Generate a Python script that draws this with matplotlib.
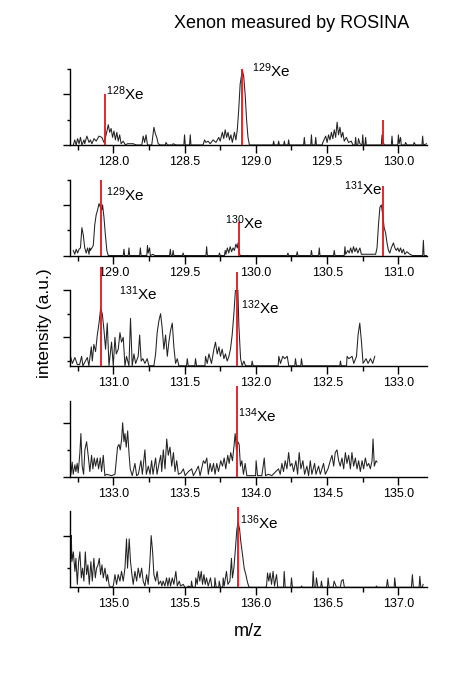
import numpy as np
import matplotlib
matplotlib.use("Agg")
from matplotlib import pyplot as plt
from matplotlib.ticker import MultipleLocator

plt.rcParams['font.family'] = ['Liberation Sans', 'DejaVu Sans']
plt.rcParams['mathtext.fontset'] = 'custom'
plt.rcParams['mathtext.rm'] = 'Liberation Sans'
plt.rcParams['mathtext.it'] = 'Liberation Sans:italic'

# spectra: (m/z, intensity in panel units)
spec1 = [(127.72,0.0),(127.73,0.2),(127.74,0.0),(127.75,0.25),(127.76,0.05),(127.77,0.3),(127.78,0.0),
         (127.795,0.2),(127.80,0.05),(127.815,0.35),(127.83,0.1),(127.84,0.2),(127.85,0.05),(127.865,0.25),
         (127.88,0.15),(127.90,0.35),(127.92,0.3),(127.935,0.1),(127.95,0.4),(127.965,0.8),(127.975,0.5),
         (127.985,0.65),(127.995,0.3),(128.005,0.55),(128.015,0.2),(128.025,0.5),(128.035,0.15),(128.045,0.4),
         (128.055,0.05),(128.07,0.15),(128.085,0.0),(128.10,0.05),(128.14,0.05),(128.16,0.0),(128.2,0.0),
         (128.21,0.35),(128.22,0.1),(128.23,0.4),(128.24,0.0),(128.27,0.0),(128.285,0.7),(128.295,0.45),
         (128.305,0.3),(128.315,0.05),(128.33,0.0),(128.365,0.0),(128.37,0.1),(128.38,0.0),(128.415,0.0),
         (128.42,0.05),(128.44,0.0),(128.495,0.0),(128.50,0.4),(128.505,0.0),(128.535,0.0),(128.54,0.4),
         (128.545,0.0),(128.63,0.0),(128.64,0.2),(128.65,0.1),
         (128.665,0.15),(128.68,0.05),(128.70,0.2),(128.72,0.1),(128.74,0.3),(128.75,0.15),(128.765,0.5),
         (128.775,0.25),(128.785,0.6),(128.795,0.3),(128.805,0.5),(128.815,0.2),(128.825,0.4),(128.835,0.1),
         (128.85,0.5),(128.86,0.2),(128.87,0.6),(128.88,1.4),(128.89,2.4),(128.905,2.95),(128.915,2.7),
         (128.925,2.0),(128.935,1.0),(128.945,0.3),(128.955,0.0),(129.12,0.0),(129.125,0.15),(129.13,0.0),
         (129.155,0.0),(129.16,0.15),(129.165,0.0),(129.195,0.0),(129.20,0.15),(129.205,0.0),(129.225,0.0),
         (129.23,0.2),(129.235,0.0),(129.335,0.0),(129.34,0.3),(129.345,0.0),(129.385,0.0),(129.39,0.4),
         (129.395,0.0),(129.415,0.0),(129.42,0.3),(129.425,0.0),(129.465,0.0),(129.47,0.1),
         (129.49,0.35),(129.50,0.1),(129.51,0.4),(129.52,0.2),(129.53,0.5),(129.54,0.25),(129.55,0.6),
         (129.56,0.3),(129.57,0.9),(129.58,0.4),(129.59,0.7),(129.60,0.3),(129.61,0.5),(129.62,0.15),
         (129.635,0.3),(129.65,0.1),(129.67,0.15),(129.68,0.0),(129.695,0.0),(129.70,0.3),(129.705,0.0),
         (129.715,0.0),(129.72,0.25),(129.73,0.05),(129.745,0.0),(129.75,0.4),(129.755,0.0),(129.765,0.0),
         (129.77,0.3),(129.775,0.0),(129.88,0.0),(129.885,0.4),(129.895,0.1),(129.90,0.0),(129.95,0.0),
         (129.955,0.35),(129.96,0.0),(129.995,0.0),(130.0,0.4),(130.005,0.05),(130.015,0.3),
         (130.02,0.0),(130.045,0.0),(130.05,0.1),(130.06,0.0),(130.105,0.0),(130.11,0.1),(130.12,0.0),
         (130.165,0.0),(130.17,0.35),(130.175,0.0),(130.2,0.05)]

spec2 = [(128.72,0.2),(128.73,0.05),(128.74,0.25),(128.75,0.1),(128.76,0.25),(128.77,0.3),(128.78,1.1),
         (128.79,0.8),(128.80,0.3),(128.81,0.1),(128.82,0.3),(128.83,0.05),(128.835,0.3),(128.84,0.2),
         (128.85,0.3),(128.86,0.4),(128.87,1.2),(128.88,1.6),(128.89,1.8),(128.90,2.05),(128.91,1.9),
         (128.92,1.8),(128.925,2.0),(128.935,1.5),(128.945,0.8),(128.955,0.2),(128.965,0.0),(129.07,0.0),
         (129.075,0.25),(129.08,0.0),(129.105,0.0),(129.11,0.3),(129.115,0.0),(129.185,0.0),(129.19,0.3),
         (129.195,0.0),(129.235,0.0),(129.24,0.4),(129.245,0.1),(129.255,0.3),(129.26,0.0),(129.28,0.05),
         (129.29,0.0),(129.395,0.0),(129.40,0.25),(129.405,0.0),(129.415,0.0),(129.42,0.2),(129.425,0.0),
         (129.485,0.0),(129.49,0.1),(129.495,0.0),(129.65,0.0),(129.655,0.35),(129.66,0.0),(129.74,0.0),
         (129.745,0.1),(129.75,0.0),(129.78,0.0),(129.785,0.2),(129.79,0.05),(129.80,0.3),(129.81,0.1),
         (129.82,0.35),(129.83,0.15),(129.84,0.3),(129.85,0.2),(129.86,0.45),(129.87,0.3),(129.875,0.5),
         (129.885,0.1),(129.89,0.0),(130.22,0.0),(130.225,0.1),(130.23,0.0),(130.285,0.0),(130.29,0.15),
         (130.295,0.0),(130.385,0.0),(130.39,0.2),(130.395,0.0),(130.44,0.0),(130.445,0.3),(130.45,0.0),
         (130.545,0.0),(130.55,0.2),(130.555,0.0),(130.62,0.0),(130.625,0.35),(130.63,0.05),
         (130.645,0.2),(130.655,0.1),(130.665,0.3),(130.675,0.1),(130.685,0.35),(130.695,0.15),(130.705,0.3),
         (130.715,0.1),(130.73,0.3),(130.74,0.05),(130.76,0.05),(130.84,0.05),(130.85,0.3),(130.86,1.2),
         (130.87,1.9),(130.88,2.0),(130.89,1.6),(130.9,1.1),(130.91,0.9),(130.92,0.5),(130.93,0.2),
         (130.94,0.1),(130.95,0.3),(130.965,0.5),(130.975,0.3),(130.985,0.2),(130.995,0.3),(131.005,0.15),
         (131.015,0.3),(131.025,0.1),(131.035,0.25),(131.045,0.05),(131.06,0.15),(131.08,0.05),(131.1,0.0),
         (131.17,0.0),(131.175,0.6),(131.18,0.0),(131.2,0.0)]

spec3 = [(130.70,1.2),(130.713,0.9),(130.731,1.15),(130.748,0.85),(130.764,0.85),(130.778,1.2),(130.787,0.8),
         (130.818,1.15),(130.829,0.8),(130.846,1.6),(130.853,1.0),(130.864,1.7),(130.876,1.4),(130.888,2.1),
         (130.90,2.6),(130.911,3.2),(130.923,3.0),(130.935,2.3),(130.946,1.5),(130.958,2.6),(130.97,0.8),
         (130.988,1.8),(131.0,0.8),(131.012,2.0),(131.021,1.3),(131.035,1.5),(131.047,2.2),(131.058,1.8),
         (131.07,2.0),(131.082,0.8),(131.093,1.2),(131.11,0.8),(131.121,2.8),(131.133,0.8),(131.145,1.3),
         (131.157,0.9),(131.175,1.2),(131.185,2.1),(131.196,1.0),(131.208,1.1),(131.222,0.9),(131.238,1.1),
         (131.25,0.8),(131.285,0.8),(131.297,1.3),(131.308,2.2),(131.32,2.7),(131.332,3.0),(131.343,2.4),
         (131.355,1.5),(131.367,2.1),(131.379,1.2),(131.39,1.8),(131.402,2.3),(131.414,2.6),(131.425,1.6),
         (131.437,0.9),(131.449,1.1),(131.46,0.8),(131.514,0.8),(131.519,1.1),(131.526,0.8),(131.572,0.8),
         (131.577,1.1),(131.584,0.8),(131.643,0.8),(131.647,1.2),(131.659,0.9),(131.671,1.3),(131.689,0.9),
         (131.706,1.5),(131.717,1.8),(131.729,1.3),(131.741,1.6),(131.752,1.2),(131.764,1.5),(131.776,1.1),
         (131.787,1.3),(131.799,1.0),(131.811,1.2),(131.822,1.5),(131.834,2.1),(131.846,3.0),(131.857,4.0),
         (131.874,4.0),(131.881,2.5),(131.893,1.1),(131.904,0.8),(131.916,1.0),(131.928,0.8),(131.97,0.8),
         (131.974,1.0),(131.981,0.8),(132.157,0.8),(132.161,1.2),(132.173,0.9),(132.189,1.2),(132.203,1.1),
         (132.22,1.2),(132.231,0.8),(132.273,0.8),(132.278,1.1),(132.285,0.8),(132.315,0.8),(132.32,1.1),
         (132.327,0.8),(132.589,0.8),(132.593,1.0),(132.6,0.8),(132.636,0.8),(132.64,1.2),(132.652,1.1),
         (132.675,1.2),(132.687,0.9),(132.706,1.2),(132.717,2.1),(132.729,2.6),(132.741,1.8),(132.752,0.9),
         (132.773,1.1),(132.787,0.9),(132.804,1.1),(132.82,0.9),(132.834,1.2)]

spec4 = [(132.70,0.5),(132.703,0.1),(132.712,0.55),(132.719,0.1),(132.731,0.45),(132.738,0.2),(132.747,0.5),
         (132.754,0.15),(132.766,0.9),(132.773,1.6),(132.782,0.4),(132.792,0.1),(132.801,1.0),(132.813,1.3),
         (132.824,0.8),(132.836,0.2),(132.848,0.8),(132.857,0.3),(132.867,0.7),(132.876,0.4),(132.888,0.7),
         (132.897,0.3),(132.909,0.7),(132.918,0.2),(132.93,0.8),(132.941,0.05),(132.953,0.1),(132.988,0.05),
         (133.012,0.1),(133.03,1.1),(133.04,1.2),(133.049,1.0),(133.059,1.4),(133.066,2.0),(133.075,1.3),
         (133.082,1.6),(133.091,1.1),(133.101,1.7),(133.11,0.9),(133.119,0.3),(133.133,0.05),(133.152,0.5),
         (133.164,0.05),(133.176,0.1),(133.194,0.6),(133.204,0.1),(133.222,1.0),(133.232,0.1),(133.246,0.4),
         (133.258,0.1),(133.269,0.6),(133.279,0.1),(133.297,0.7),(133.307,0.1),(133.321,0.5),(133.333,0.8),
         (133.34,0.2),(133.351,1.0),(133.363,0.3),(133.375,1.4),(133.386,0.8),(133.398,1.1),(133.41,0.4),
         (133.422,0.9),(133.433,0.2),(133.445,0.6),(133.457,0.1),(133.475,0.15),(133.492,0.3),(133.504,0.05),
         (133.527,0.2),(133.55,0.3),(133.562,0.05),(133.578,0.2),(133.597,0.4),(133.609,0.05),(133.632,0.6),
         (133.644,0.5),(133.656,0.7),(133.667,0.1),(133.679,0.5),(133.691,0.2),(133.703,0.5),(133.714,0.1),
         (133.726,0.5),(133.738,0.2),(133.754,0.6),(133.766,0.4),(133.778,0.7),(133.789,0.3),(133.803,0.8),
         (133.813,0.5),(133.824,0.9),(133.836,0.6),(133.848,1.2),(133.855,1.6),(133.864,1.0),(133.874,1.3),
         (133.883,1.2),(133.892,0.4),(133.902,0.6),(133.913,0.1),(133.925,0.5),(133.937,0.05),(133.96,0.05),
         (133.998,0.05),(134.002,0.6),(134.012,0.05),(134.042,0.05),(134.059,0.7),(134.068,0.05),(134.089,0.1),
         (134.112,0.05),(134.159,0.3),(134.171,0.1),(134.183,0.5),(134.194,0.2),(134.206,0.6),(134.218,0.3),
         (134.23,0.9),(134.241,0.4),(134.253,0.5),(134.265,0.2),(134.281,0.6),(134.293,0.1),(134.304,0.9),
         (134.316,0.3),(134.33,0.6),(134.342,0.1),(134.358,0.4),(134.37,0.05),(134.382,0.6),(134.393,0.1),
         (134.412,0.5),(134.422,0.1),(134.44,0.4),(134.452,0.1),(134.475,0.5),(134.487,0.1),(134.506,0.3),
         (134.522,0.6),(134.534,0.8),(134.546,0.4),(134.557,0.9),(134.569,1.0),(134.581,0.6),(134.592,0.4),
         (134.604,0.7),(134.616,0.3),(134.628,0.9),(134.639,0.5),(134.651,0.8),(134.663,0.3),(134.674,0.9),
         (134.686,0.4),(134.698,0.7),(134.71,0.3),(134.721,0.6),(134.733,0.2),(134.745,0.6),(134.756,0.3),
         (134.768,0.7),(134.78,0.4),(134.792,0.5),(134.803,0.3),(134.815,0.6),(134.822,1.4),(134.831,0.4),
         (134.843,0.6),(134.85,0.55)]

spec5 = [(134.70,1.9),(134.703,1.3),(134.706,2.0),(134.71,1.2),(134.72,1.5),(134.731,0.9),(134.738,1.3),
         (134.748,0.5),(134.757,1.2),(134.766,1.5),(134.776,0.7),(134.785,1.0),(134.794,0.6),(134.804,1.5),
         (134.813,0.8),(134.822,1.1),(134.832,0.5),(134.843,1.2),(134.853,0.6),(134.864,1.3),(134.874,0.7),
         (134.883,1.0),(134.893,1.1),(134.902,1.3),(134.911,0.8),(134.921,1.1),(134.93,0.7),(134.942,1.0),
         (134.953,0.6),(134.96,0.8),(134.972,0.45),(134.988,0.41),(135.0,0.45),(135.012,0.8),(135.023,0.5),
         (135.035,0.8),(135.047,0.6),(135.058,0.9),(135.07,0.6),(135.082,1.0),(135.093,1.9),(135.1,1.0),
         (135.112,1.9),(135.121,1.2),(135.131,0.8),(135.14,0.5),(135.152,0.9),(135.164,0.6),(135.175,1.0),
         (135.187,0.7),(135.199,1.0),(135.21,0.6),(135.222,0.45),(135.234,0.8),(135.245,0.5),(135.257,1.2),
         (135.266,2.0),(135.276,1.5),(135.285,0.8),(135.297,0.6),(135.308,0.9),(135.318,0.5),(135.332,0.6),
         (135.341,0.45),(135.35,0.6),(135.362,0.45),(135.374,0.7),(135.383,0.45),(135.393,0.7),(135.402,0.45),
         (135.414,0.7),(135.425,0.5),(135.439,0.9),(135.449,0.45),(135.463,0.6),(135.472,0.45),(135.491,0.5),
         (135.502,0.41),(135.52,0.41),(135.526,0.45),(135.545,0.41),(135.549,0.6),(135.556,0.41),(135.575,0.41),
         (135.579,0.7),(135.589,0.5),(135.598,0.9),
         (135.607,0.6),(135.617,0.9),(135.626,0.5),(135.636,0.8),(135.645,0.5),(135.654,0.7),(135.666,0.45),
         (135.682,0.7),(135.692,0.41),(135.71,0.41),(135.713,0.7),(135.722,0.41),(135.74,0.41),(135.743,0.6),
         (135.752,0.41),(135.768,0.41),(135.771,0.7),
         (135.778,0.45),(135.794,0.9),(135.804,0.5),(135.818,0.6),(135.829,1.3),(135.836,0.7),(135.846,1.0),
         (135.857,1.6),(135.867,2.2),(135.876,2.4),(135.886,2.2),(135.895,1.8),(135.907,1.4),(135.918,1.0),
         (135.93,0.8),(135.942,0.55),(135.953,0.41),(136.07,0.41),(136.075,0.45),(136.082,0.85),(136.091,0.6),
         (136.1,0.85),(136.11,0.5),(136.121,0.9),(136.131,0.45),(136.145,0.8),(136.154,0.41),(136.194,0.41),
         (136.199,0.9),(136.206,0.41),(136.245,0.41),(136.25,0.7),(136.257,0.41),(136.317,0.41),(136.32,0.45),
         (136.327,0.41),(136.397,0.41),(136.402,0.9),(136.409,0.41),(136.42,0.41),(136.425,0.7),(136.435,0.41),
         (136.455,0.41),(136.46,0.6),(136.467,0.41),(136.502,0.41),(136.507,0.7),(136.514,0.41),(136.542,0.41),
         (136.549,0.6),(136.565,0.41),(136.593,0.41),(136.6,0.6),(136.612,0.65),(136.621,0.41),(136.717,0.41),
         (136.842,0.41),(136.846,0.45),(136.85,0.41),(136.916,0.41),(136.923,0.65),(136.93,0.41),
         (136.97,0.41),(136.974,0.7),(136.981,0.41),(137.091,0.41),(137.098,0.8),(137.105,0.41),(137.145,0.41),
         (137.15,0.75),(137.157,0.41),(137.168,0.41),(137.173,0.5)]

spectra = [spec1, spec2, spec3, spec4, spec5]

# axis ranges of each panel
x_start = [127.7, 128.7, 130.7, 132.7, 134.7]
y_lims = [(0, 3.0), (0, 3.0), (0.79, 4.0), (0, 2.8), (0.41, 2.75)]

# red isotope markers: position, height, label (None = no label), label x, label y
lines = [
    [(127.94, 2.0, '128', 127.95, 1.77), (128.905, 3.0, '129', 128.975, 2.67), (129.893, 1.0, None, 0, 0)],
    [(128.915, 3.0, '129', 128.95, 2.17), (129.884, 1.33, '130', 129.782, 1.03), (130.893, 2.73, '131', 130.615, 2.4)],
    [(130.916, 4.97, '131', 131.04, 3.58), (131.869, 4.76, '132', 131.893, 3.0)],
    [(133.871, 3.34, '134', 133.878, 2.02)],
    [(135.876, 2.89, '136', 135.888, 2.19)],
]

fig = plt.figure(figsize=(4.74, 6.91), dpi=100)

bottoms = [0.7902, 0.6302, 0.4703, 0.3097, 0.1501]
for i in range(5):
    ax = fig.add_axes([0.1487, bottoms[i], 0.752, 0.11])
    mz = [p[0] for p in spectra[i]]
    inten = [p[1] for p in spectra[i]]
    ax.plot(mz, inten, color='#222222', lw=0.75)

    for (pos, h, lab, lx, ly) in lines[i]:
        ax.vlines(pos, y_lims[i][0], h, color='#e3161c', lw=1.3, clip_on=False, zorder=3)
        if lab is not None:
            ax.text(lx, ly, r'$^{%s}$Xe' % lab, fontsize=11, ha='left', va='baseline')

    ax.set_xlim(x_start[i], x_start[i] + 2.5)
    ax.set_ylim(*y_lims[i])

    ax.spines['top'].set_visible(False)
    ax.spines['right'].set_visible(False)
    ax.spines['left'].set_linewidth(1.0)
    ax.spines['bottom'].set_linewidth(1.0)

    ax.xaxis.set_major_locator(MultipleLocator(0.5))
    ax.xaxis.set_minor_locator(MultipleLocator(0.25))
    ax.yaxis.set_major_locator(MultipleLocator(2))
    ax.yaxis.set_minor_locator(MultipleLocator(1))
    ax.xaxis.set_major_formatter(plt.FormatStrFormatter('%.1f'))
    ax.tick_params(axis='x', which='major', direction='out', length=6, width=1, labelsize=9, pad=2)
    ax.tick_params(axis='x', which='minor', direction='out', length=3.5, width=1)
    ax.tick_params(axis='y', which='major', direction='out', length=5, width=1, labelleft=False)
    ax.tick_params(axis='y', which='minor', direction='out', length=2.5, width=1)
    ax.patch.set_alpha(0)

fig.text(292/474, 1-24/691, 'Xenon measured by ROSINA', ha='center', va='center', fontsize=13)
fig.text(44/474, 1-323/691, 'intensity (a.u.)', ha='center', va='center', rotation=90, fontsize=12.5)
fig.text(248/474, 1-632/691, 'm/z', ha='center', va='center', fontsize=13)

fig.savefig('out.png', dpi=100)
